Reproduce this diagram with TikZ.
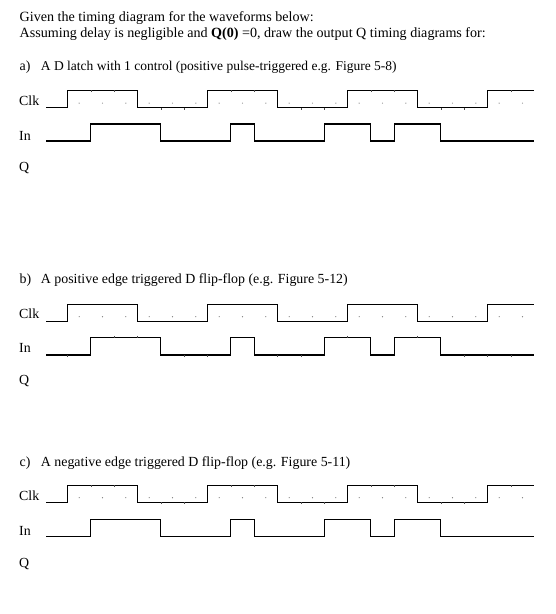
\documentclass[tikz,border=0pt]{standalone}
\usepackage{fontspec}
\setmainfont{Liberation Serif}
\begin{document}
\begin{tikzpicture}[x=1pt,y=-1pt,
  wave/.style={line width=1.1pt, line join=miter},
  lbl/.style={anchor=base west, inner sep=0pt, font=\fontsize{13.9}{16}\selectfont},
  hdr/.style={lbl, font=\fontsize{14.1}{16}\selectfont},
  gdot/.style={fill=black!55},
  tick/.style={line width=0.6pt, draw=black!70}]
\useasboundingbox[fill=white] (0,0) rectangle (556,614);
% header
\node[hdr] (l1) at (19.5,21.7) {Given the timing diagram for the waveforms below:};
\node[hdr] (l2) at (19.5,37.5) {Assuming delay is negligible and \textbf{Q(0)} =0, draw the output Q timing diagrams for:};
% section titles
\node[lbl] (ta) at (19.5,70.7) {a)};
\node[lbl, font=\fontsize{13.5}{16}\selectfont] (tta) at (40.7,70.7) {A D latch with 1 control (positive pulse-triggered e.g. Figure 5-8)};
\node[lbl] (tb) at (19.5,283.3) {b)};
\node[lbl] (ttb) at (40.7,283.3) {A positive edge triggered D flip-flop (e.g. Figure 5-12)};
\node[lbl] (tc) at (19.5,466.7) {c)};
\node[lbl] (ttc) at (40.7,466.7) {A negative edge triggered D flip-flop (e.g. Figure 5-11)};
% signal labels
\node[lbl] (clka) at (19,105) {Clk};
\node[lbl] (ina) at (19,140) {In};
\node[lbl] (qa) at (19,171) {Q};
\node[lbl] (clkb) at (19,318.3) {Clk};
\node[lbl] (inb) at (19,352) {In};
\node[lbl] (qb) at (19,384.5) {Q};
\node[lbl] (clkc) at (19,500) {Clk};
\node[lbl] (inc) at (19,535) {In};
\node[lbl] (qc) at (19,567) {Q};
% waveforms
\foreach \H/\L/\IH/\IL/\clkticks/\inticks in {90.3/107.7/124/141/1/0, 304.3/321.3/337.7/355/0/1, 485.3/502.3/519.3/536.3/1/0}{
  \begin{scope}[xshift=67.5pt, x=23.3333pt]
    \draw[wave] (-0.92,\L) -- (0,\L) -- (0,\H) -- (3,\H) -- (3,\L) -- (6,\L) -- (6,\H) -- (9,\H) -- (9,\L)
      -- (12,\L) -- (12,\H) -- (15,\H) -- (15,\L) -- (18,\L) -- (18,\H) -- (20,\H);
    \draw[wave] (-0.92,\IL) -- (1,\IL) -- (1,\IH) -- (4,\IH) -- (4,\IL) -- (7,\IL) -- (7,\IH) -- (8,\IH) -- (8,\IL)
      -- (11,\IL) -- (11,\IH) -- (13,\IH) -- (13,\IL) -- (14,\IL) -- (14,\IH) -- (16,\IH) -- (16,\IL) -- (20,\IL);
    \foreach \k in {0,...,19}{
      \fill[gdot] (\k+0.5,\L-4.6) circle[radius=0.6pt];
    }
    \ifnum\clkticks=1
      \foreach \k in {1,2,7,8,13,14,19}{ \draw[tick] (\k,\H) -- (\k,\H+1.8); }
      \foreach \k in {4,5,10,11,16,17}{ \draw[tick] (\k,\L) -- (\k,\L+1.8); }
    \fi
    \ifnum\inticks=1
      \foreach \k in {2,3,12,15}{ \draw[tick] (\k,\IH) -- (\k,\IH-1.8); }
      \foreach \k in {0,5,6,9,10,17,18,19}{ \draw[tick] (\k,\IL) -- (\k,\IL+1.8); }
    \fi
  \end{scope}
}
\end{tikzpicture}
\end{document}
